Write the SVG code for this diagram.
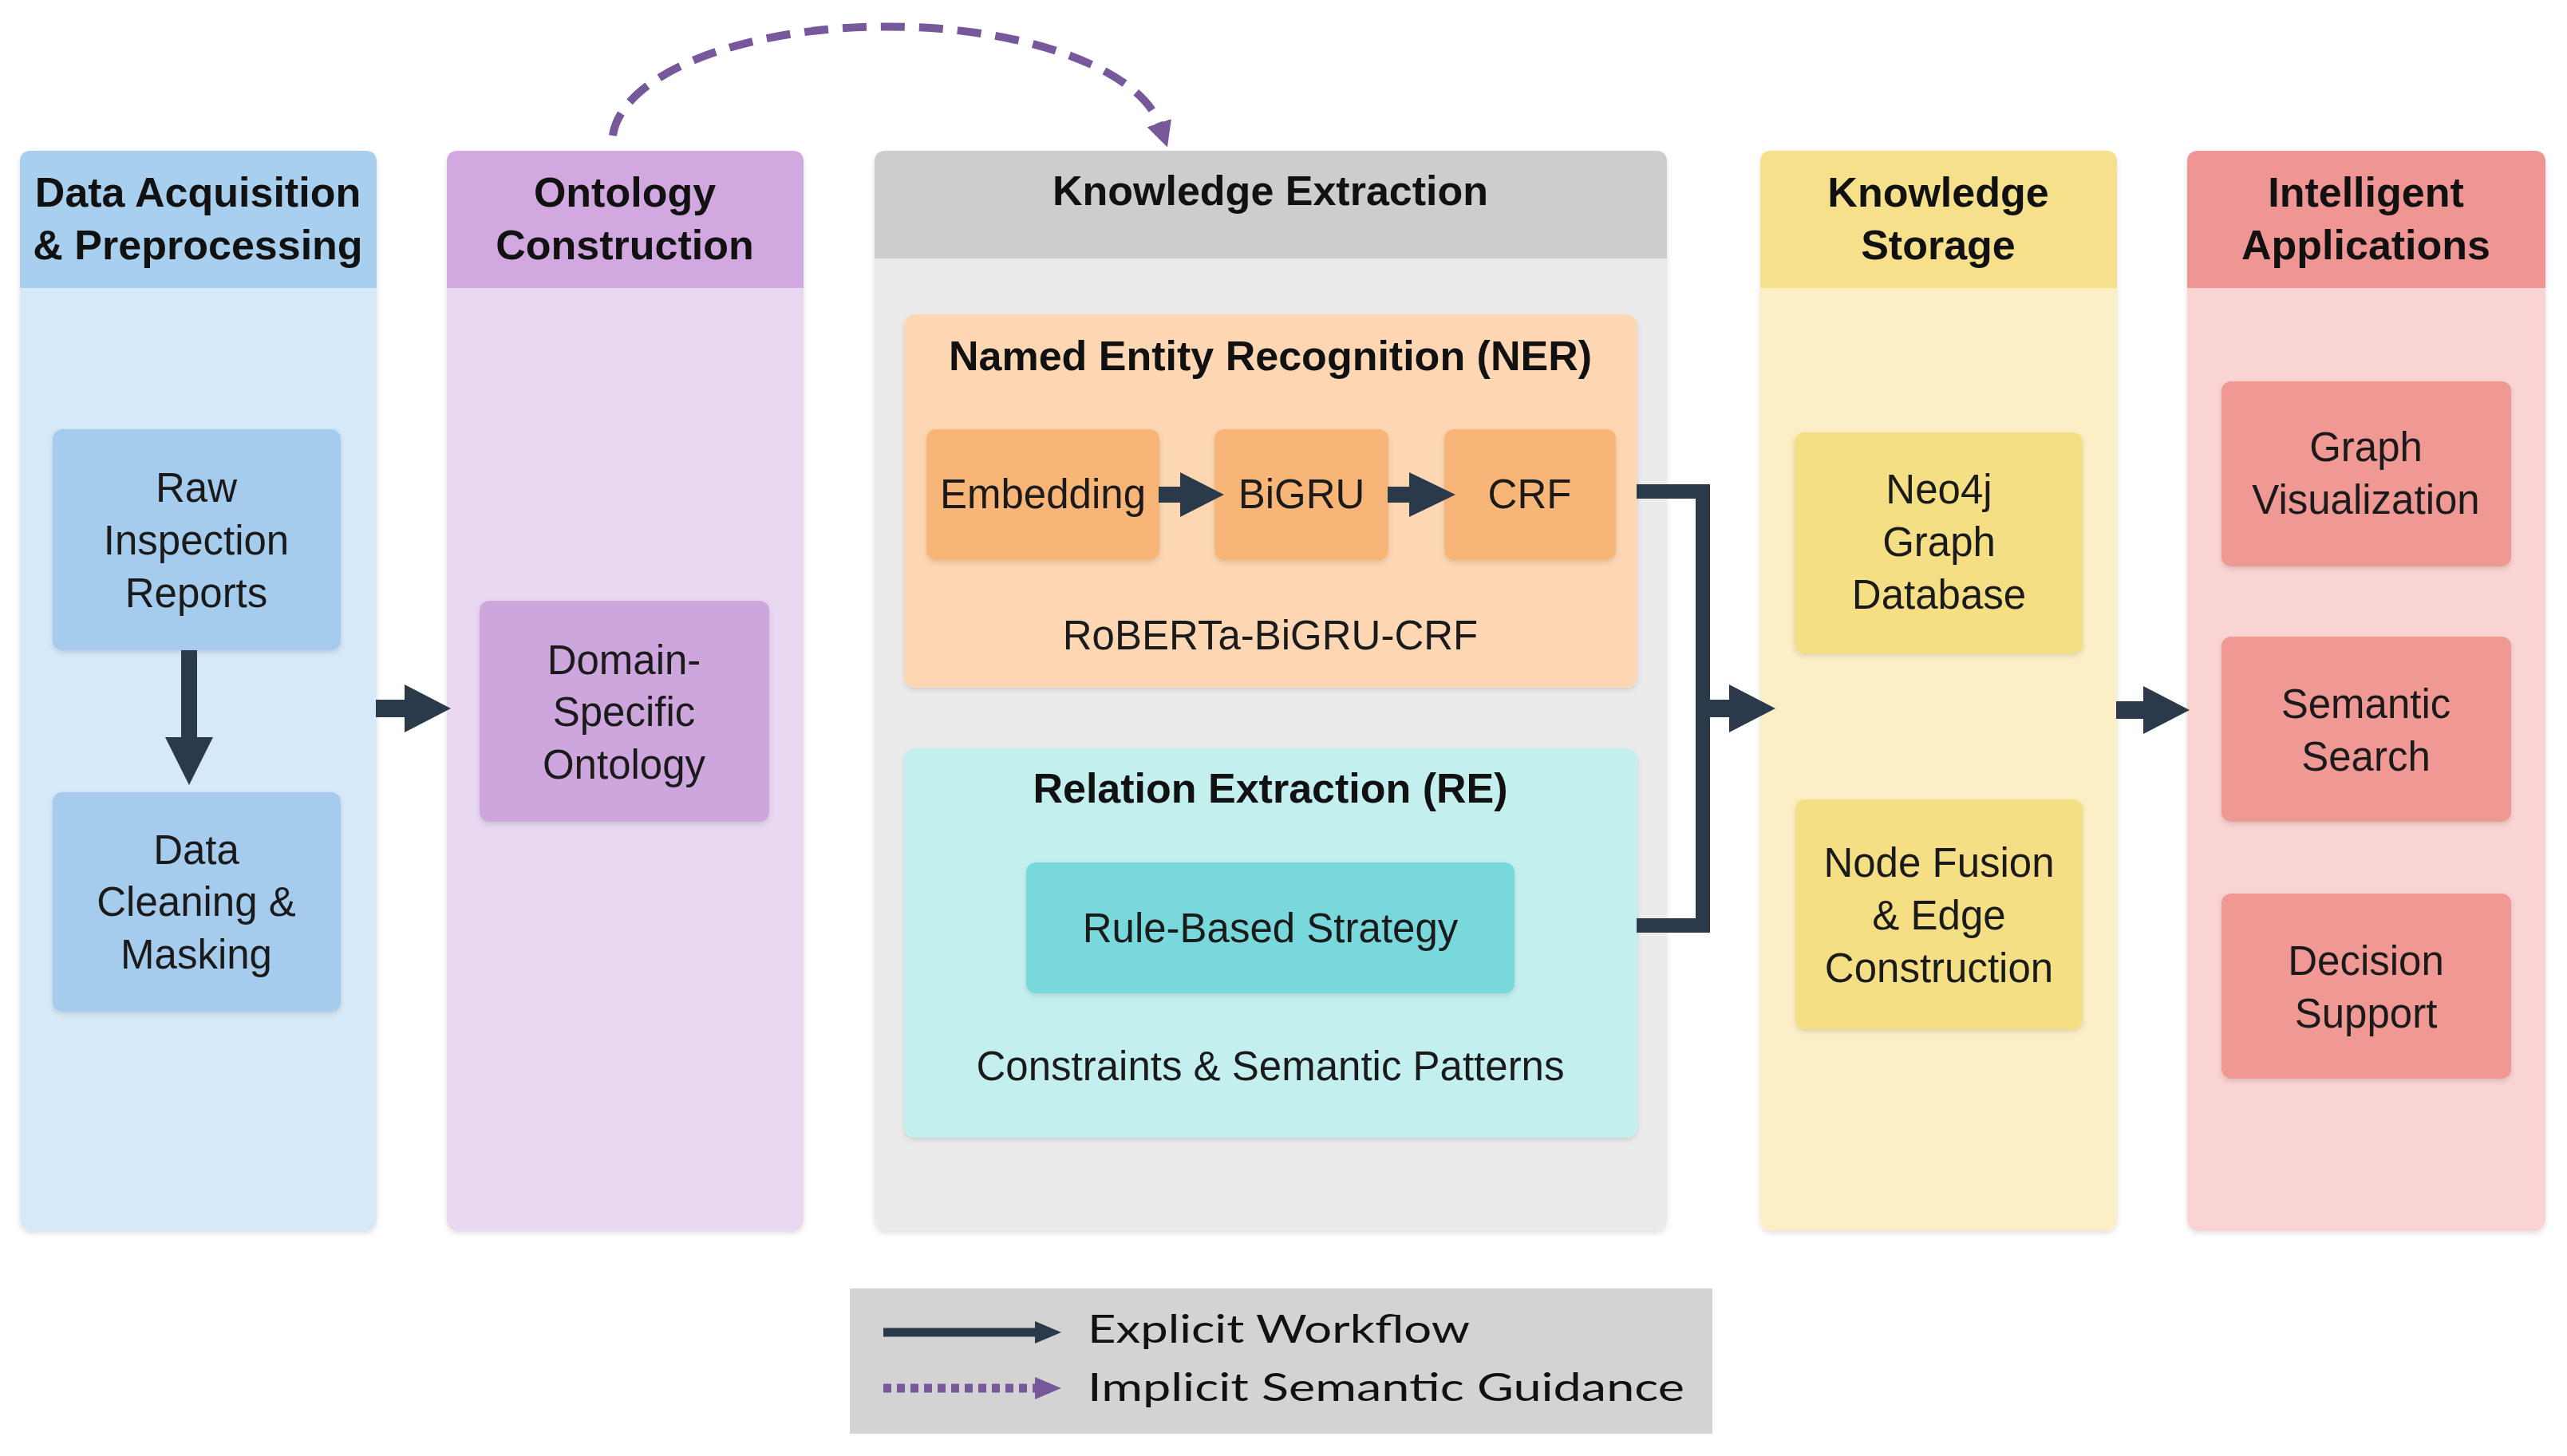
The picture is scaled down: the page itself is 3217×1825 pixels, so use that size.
<svg xmlns="http://www.w3.org/2000/svg" width="3217" height="1825" viewBox="0 0 3217 1825">
<style>
  .hdr{font-family:"Liberation Sans",Arial,sans-serif;font-weight:bold;font-size:52px;fill:#111;text-anchor:middle}
  .txt{font-family:"Liberation Sans",Arial,sans-serif;font-size:51px;fill:#1a1a1a;text-anchor:middle}
  .leg{font-family:Lato,"Liberation Sans",sans-serif;font-size:48px;fill:#111}
  .arrow{fill:#2b3a4b}
  .node{filter:url(#sh)}
</style>
<defs>
  <filter id="sh" x="-10%" y="-10%" width="120%" height="125%">
    <feDropShadow dx="0" dy="3" stdDeviation="3" flood-color="#000" flood-opacity="0.12"/>
  </filter>
  <marker id="pm" markerUnits="userSpaceOnUse" markerWidth="40" markerHeight="40" refX="4" refY="16" orient="auto">
    <path d="M0,0 L32,16 L0,32 z" fill="#77589b"/>
  </marker>
</defs>
<rect width="3217" height="1825" fill="#ffffff"/>

<!-- Column 1 -->
<g id="col-data-acquisition">
  <rect x="25" y="189" width="447" height="1354" rx="14" fill="#d6e9f8" class="node"/>
  <path d="M25 203 Q25 189 39 189 H458 Q472 189 472 203 V361 H25 Z" fill="#a8cfee"/>
  <text class="hdr" x="248" y="259">Data Acquisition</text>
  <text class="hdr" x="248" y="325">&amp; Preprocessing</text>
</g>
<g id="node-raw-reports">
  <rect x="66" y="538" width="361" height="277" rx="12" fill="#a5cced" class="node"/>
  <text class="txt" x="246" y="629">Raw</text>
  <text class="txt" x="246" y="695">Inspection</text>
  <text class="txt" x="246" y="761">Reports</text>
</g>
<g id="node-data-cleaning">
  <rect x="66" y="993" width="361" height="275" rx="12" fill="#a5cced" class="node"/>
  <text class="txt" x="246" y="1083">Data</text>
  <text class="txt" x="246" y="1148">Cleaning &amp;</text>
  <text class="txt" x="246" y="1214">Masking</text>
</g>

<!-- Column 2 -->
<g id="col-ontology">
  <rect x="560" y="189" width="447" height="1354" rx="14" fill="#e8d8f2" class="node"/>
  <path d="M560 203 Q560 189 574 189 H993 Q1007 189 1007 203 V361 H560 Z" fill="#d1a9e0"/>
  <text class="hdr" x="783" y="259">Ontology</text>
  <text class="hdr" x="783" y="325">Construction</text>
</g>
<g id="node-domain-ontology">
  <rect x="601" y="753" width="363" height="277" rx="12" fill="#cea6de" class="node"/>
  <text class="txt" x="782" y="845">Domain-</text>
  <text class="txt" x="782" y="910">Specific</text>
  <text class="txt" x="782" y="976">Ontology</text>
</g>

<!-- Column 3 -->
<g id="col-knowledge-extraction">
  <rect x="1096" y="189" width="993" height="1354" rx="14" fill="#ebebeb" class="node"/>
  <path d="M1096 203 Q1096 189 1110 189 H2075 Q2089 189 2089 203 V324 H1096 Z" fill="#cdcdcd"/>
  <text class="hdr" x="1592" y="257">Knowledge Extraction</text>
</g>
<g id="node-ner">
  <rect x="1133" y="394" width="919" height="468" rx="14" fill="#fdd7b3" class="node"/>
  <text class="hdr" x="1592" y="464">Named Entity Recognition (NER)</text>
  <text class="txt" x="1592" y="814">RoBERTa-BiGRU-CRF</text>
</g>
<g id="node-embedding">
  <rect x="1161" y="538" width="292" height="164" rx="12" fill="#f8b578" class="node"/>
  <text class="txt" x="1307" y="637">Embedding</text>
</g>
<g id="node-bigru">
  <rect x="1522" y="538" width="218" height="164" rx="12" fill="#f8b578" class="node"/>
  <text class="txt" x="1631" y="637">BiGRU</text>
</g>
<g id="node-crf">
  <rect x="1810" y="538" width="215" height="164" rx="12" fill="#f8b578" class="node"/>
  <text class="txt" x="1917" y="637">CRF</text>
</g>
<g id="node-re">
  <rect x="1133" y="938" width="919" height="488" rx="14" fill="#c3f0ef" class="node"/>
  <text class="hdr" x="1592" y="1006">Relation Extraction (RE)</text>
  <text class="txt" x="1592" y="1354">Constraints &amp; Semantic Patterns</text>
</g>
<g id="node-rule-based">
  <rect x="1286" y="1081" width="612" height="164" rx="12" fill="#79d8dc" class="node"/>
  <text class="txt" x="1592" y="1181">Rule-Based Strategy</text>
</g>

<!-- Column 4 -->
<g id="col-knowledge-storage">
  <rect x="2206" y="189" width="447" height="1354" rx="14" fill="#fcefc5" class="node"/>
  <path d="M2206 203 Q2206 189 2220 189 H2639 Q2653 189 2653 203 V361 H2206 Z" fill="#f6e08b"/>
  <text class="hdr" x="2429" y="259">Knowledge</text>
  <text class="hdr" x="2429" y="325">Storage</text>
</g>
<g id="node-neo4j">
  <rect x="2249" y="542" width="361" height="277" rx="12" fill="#f5df85" class="node"/>
  <text class="txt" x="2430" y="631">Neo4j</text>
  <text class="txt" x="2430" y="697">Graph</text>
  <text class="txt" x="2430" y="763">Database</text>
</g>
<g id="node-fusion">
  <rect x="2250" y="1002" width="360" height="288" rx="12" fill="#f5df85" class="node"/>
  <text class="txt" x="2430" y="1099">Node Fusion</text>
  <text class="txt" x="2430" y="1165">&amp; Edge</text>
  <text class="txt" x="2430" y="1231">Construction</text>
</g>

<!-- Column 5 -->
<g id="col-intelligent-applications">
  <rect x="2741" y="189" width="449" height="1354" rx="14" fill="#fad3d3" class="node"/>
  <path d="M2741 203 Q2741 189 2755 189 H3176 Q3190 189 3190 203 V361 H2741 Z" fill="#ef9694"/>
  <text class="hdr" x="2965" y="259">Intelligent</text>
  <text class="hdr" x="2965" y="325">Applications</text>
</g>
<g id="node-graph-vis">
  <rect x="2784" y="478" width="363" height="232" rx="12" fill="#ef9894" class="node"/>
  <text class="txt" x="2965" y="578">Graph</text>
  <text class="txt" x="2965" y="644">Visualization</text>
</g>
<g id="node-semantic-search">
  <rect x="2784" y="798" width="363" height="232" rx="12" fill="#ef9894" class="node"/>
  <text class="txt" x="2965" y="900">Semantic</text>
  <text class="txt" x="2965" y="966">Search</text>
</g>
<g id="node-decision-support">
  <rect x="2784" y="1120" width="363" height="232" rx="12" fill="#ef9894" class="node"/>
  <text class="txt" x="2965" y="1222">Decision</text>
  <text class="txt" x="2965" y="1288">Support</text>
</g>

<!-- Connectors -->
<g id="connectors">
  <path class="arrow" d="M227 815 H247 V924 H267 L237 984 L207 924 H227 Z"/>
  <path class="arrow" d="M471 877 H507 V858 L565 888 L507 918 V899 H471 Z"/>
  <path class="arrow" d="M1452 610 H1479 V592 L1534 620 L1479 648 V630 H1452 Z"/>
  <path class="arrow" d="M1739 610 H1766 V592 L1824 620 L1766 648 V630 H1739 Z"/>
  <path d="M2051 616 H2134 V1160 H2051" fill="none" stroke="#2b3a4b" stroke-width="18"/>
  <path class="arrow" d="M2134 877 H2167 V858 L2225 888 L2167 918 V899 H2134 Z"/>
  <path class="arrow" d="M2652 879 H2686 V860 L2744 890 L2686 920 V901 H2652 Z"/>
  <path d="M768 170 A 345 145 0 0 1 1454 158" fill="none" stroke="#77589b" stroke-width="10" stroke-dasharray="30 18" marker-end="url(#pm)"/>
</g>

<!-- Legend -->
<g id="legend">
  <rect x="1065" y="1615" width="1081" height="182" fill="#d3d3d3"/>
  <path d="M1107 1670 H1300" stroke="#2b3a4b" stroke-width="11" fill="none"/>
  <path d="M1297 1656 L1330 1670 L1297 1684 Z" fill="#2b3a4b"/>
  <path d="M1107 1740 H1298" stroke="#77589b" stroke-width="11" fill="none" stroke-dasharray="10 7"/>
  <path d="M1297 1726 L1330 1740 L1297 1754 Z" fill="#77589b"/>
  <text class="leg" x="1363" y="1683" textLength="479" lengthAdjust="spacingAndGlyphs">Explicit Workflow</text>
  <text class="leg" x="1363" y="1756" textLength="748" lengthAdjust="spacingAndGlyphs">Implicit Semantic Guidance</text>
</g>
</svg>
